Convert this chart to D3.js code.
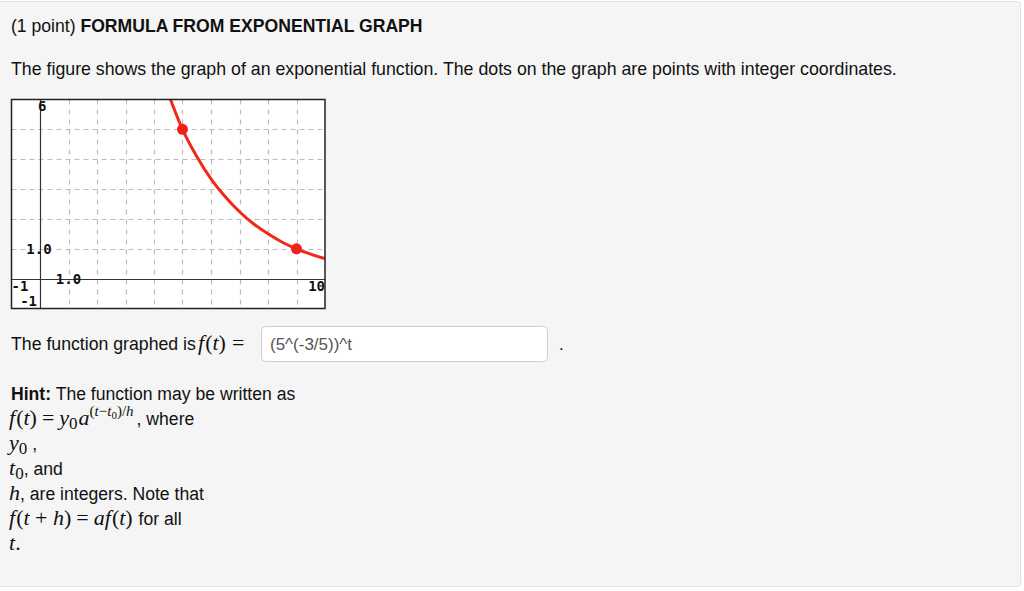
<!DOCTYPE html>
<html><head><meta charset="utf-8">
<script src="https://cdn.jsdelivr.net/npm/d3@7"></script>
<style>
html,body{margin:0;padding:0;background:#fff;}
svg{display:block;}
.sans{font-family:"Liberation Sans",Arial,Helvetica,sans-serif;}
.mono{font-family:"DejaVu Sans Mono","Liberation Mono",monospace;font-weight:bold;}
</style></head>
<body>
<script>
// ---- data ----
const xDomain = [-1, 10];
const yDomain = [-1, 6];
const xGrid = [0, 1, 2, 3, 4, 5, 6, 7, 8, 9];
const yGrid = [1, 2, 3, 4, 5];
const dotsT = [5, 9];
const dotsY = [5, 1];
const curveT = [4.5, 5, 5.5, 6, 6.5, 7, 7.5, 8, 8.5, 9, 9.5, 10];
const curveY = [6.2, 5, 4.09, 3.34, 2.74, 2.24, 1.83, 1.50, 1.22, 1.0, 0.82, 0.67];
const axisLabels = [
  {text: "6", t: 0, v: 6, anchor: "start", dx: -2, dy: 11},
  {text: "1.0", t: 0, v: 1, anchor: "middle", dx: -1, dy: 5},
  {text: "1.0", t: 1, v: 0, anchor: "middle", dx: 0, dy: 5},
  {text: "-1", t: -1, v: 0, anchor: "start", dx: 0, dy: 12},
  {text: "-1", t: 0, v: -1, anchor: "end", dx: -3, dy: -3},
  {text: "10", t: 10, v: 0, anchor: "end", dx: 0, dy: 12}
];

const W = 1024, H = 591;
const svg = d3.select("body").append("svg").attr("width", W).attr("height", H);

// page panel
svg.append("rect").attr("x", -5).attr("y", 1.5).attr("width", 1025.5).attr("height", 585)
  .attr("rx", 3).attr("fill", "#f5f5f5").attr("stroke", "#e3e3e3").attr("stroke-width", 1);

// header text
const t1 = svg.append("text").attr("class", "sans").attr("x", 11).attr("y", 32)
  .attr("font-size", 17.6).attr("fill", "#111");
t1.append("tspan").text("(1 point) ");
t1.append("tspan").attr("font-weight", "bold").text("FORMULA FROM EXPONENTIAL GRAPH");

svg.append("text").attr("class", "sans").attr("x", 11).attr("y", 75)
  .attr("font-size", 17.75).attr("fill", "#111")
  .text("The figure shows the graph of an exponential function. The dots on the graph are points with integer coordinates.");

// graph
const x = d3.scaleLinear().domain(xDomain).range([11.5, 325]);
const y = d3.scaleLinear().domain(yDomain).range([308.5, 99.5]);
const g = svg.append("g");
g.append("rect").attr("x", x(-1)).attr("y", y(6)).attr("width", x(10) - x(-1)).attr("height", y(-1) - y(6))
  .attr("fill", "#fff");
g.append("clipPath").attr("id", "clip").append("rect")
  .attr("x", x(-1)).attr("y", y(6)).attr("width", x(10) - x(-1)).attr("height", y(-1) - y(6));

g.selectAll(".vg").data(xGrid.filter(d => d !== 0)).join("line")
  .attr("x1", d => Math.round(x(d)) + 0.5).attr("x2", d => Math.round(x(d)) + 0.5)
  .attr("y1", y(6)).attr("y2", y(-1))
  .attr("stroke", "#bdbdbd").attr("stroke-width", 1.2).attr("stroke-dasharray", "5,5");
g.selectAll(".hg").data(yGrid).join("line")
  .attr("y1", d => Math.round(y(d)) + 0.5).attr("y2", d => Math.round(y(d)) + 0.5)
  .attr("x1", x(-1)).attr("x2", x(10))
  .attr("stroke", "#bdbdbd").attr("stroke-width", 1.2).attr("stroke-dasharray", "5,4");

// axes
g.append("line").attr("x1", x(-1)).attr("x2", x(10)).attr("y1", Math.round(y(0)) + 0.5).attr("y2", Math.round(y(0)) + 0.5)
  .attr("stroke", "#333").attr("stroke-width", 1.2);
g.append("line").attr("y1", y(-1)).attr("y2", y(6)).attr("x1", Math.round(x(0)) + 0.5).attr("x2", Math.round(x(0)) + 0.5)
  .attr("stroke", "#333").attr("stroke-width", 1.2);

// curve
const pts = curveT.map((t, i) => [t, curveY[i]]);
g.append("path").datum(pts).attr("clip-path", "url(#clip)")
  .attr("d", d3.line().x(d => x(d[0])).y(d => y(d[1])).curve(d3.curveMonotoneX))
  .attr("fill", "none").attr("stroke", "#f2281a").attr("stroke-width", 3);

g.selectAll(".dot").data(dotsT.map((t, i) => [t, dotsY[i]])).join("circle")
  .attr("cx", d => x(d[0])).attr("cy", d => y(d[1])).attr("r", 5.5).attr("fill", "#f2201a");

// labels
g.selectAll(".lab").data(axisLabels).join("text").attr("class", "mono")
  .attr("x", d => x(d.t) + d.dx).attr("y", d => y(d.v) + d.dy)
  .attr("text-anchor", d => d.anchor).attr("font-size", 14).attr("fill", "#111")
  .text(d => d.text);

// frame
g.append("rect").attr("x", x(-1)).attr("y", y(6)).attr("width", x(10) - x(-1)).attr("height", y(-1) - y(6))
  .attr("fill", "none").attr("stroke", "#222").attr("stroke-width", 1.5);

// answer line
svg.append("text").attr("class", "sans").attr("x", 11).attr("y", 350).attr("font-size", 17.7).attr("fill", "#111")
  .text("The function graphed is");
const fm = svg.append("text").attr("x", 198).attr("y", 350).attr("font-size", 22).attr("fill", "#111")
  .attr("font-family", "Liberation Serif, serif");
fm.append("tspan").attr("font-style", "italic").text("f");
fm.append("tspan").attr("dx", 1).text("(");
fm.append("tspan").attr("font-style", "italic").text("t");
fm.append("tspan").text(")");
fm.append("tspan").attr("dx", 6).text("=");

svg.append("rect").attr("x", 261.5).attr("y", 326.5).attr("width", 286).attr("height", 35).attr("rx", 4)
  .attr("fill", "#fff").attr("stroke", "#cfcfcf");
svg.append("text").attr("class", "sans").attr("x", 270).attr("y", 350).attr("font-size", 17).attr("fill", "#555")
  .text("(5^(-3/5))^t");
svg.append("text").attr("class", "sans").attr("x", 559).attr("y", 350).attr("font-size", 17).attr("fill", "#111").text(".");

// hint
const h1 = svg.append("text").attr("class", "sans").attr("x", 11).attr("y", 400).attr("font-size", 17.6).attr("fill", "#111");
h1.append("tspan").attr("font-weight", "bold").text("Hint:");
h1.append("tspan").text(" The function may be written as");

function serif(sel, parts) {
  parts.forEach(p => {
    const ts = sel.append("tspan").text(p.s);
    if (p.i) ts.attr("font-style", "italic");
    if (p.sans) ts.attr("font-family", "Liberation Sans, Arial, sans-serif").attr("font-size", 17.6);
    if (p.size) ts.attr("font-size", p.size);
    if (p.dy !== undefined) ts.attr("dy", p.dy);
    if (p.dx !== undefined) ts.attr("dx", p.dx);
  });
}
function mathLine(yy) {
  return svg.append("text").attr("x", 9).attr("y", yy).attr("font-size", 22).attr("fill", "#111")
    .attr("font-family", "Liberation Serif, serif");
}
serif(mathLine(425), [
  {s: "f", i: 1}, {s: "(", dx: 1}, {s: "t", i: 1}, {s: ")"}, {s: "=", dx: 5}, {s: "y", i: 1, dx: 5},
  {s: "0", size: 17, dy: 4}, {s: "a", i: 1, dy: -4, dx: 1},
  {s: "(", size: 15, dy: -9}, {s: "t", i: 1, size: 15}, {s: "−", size: 15}, {s: "t", i: 1, size: 15},
  {s: "0", size: 11, dy: 3}, {s: ")/", size: 15, dy: -3}, {s: "h", i: 1, size: 15},
  {s: ", where", sans: 1, dy: 9, dx: 3}
]);
serif(mathLine(450), [{s: "y", i: 1}, {s: "0", size: 17, dy: 4}, {s: " ,", sans: 1, dy: -4}]);
serif(mathLine(475), [{s: "t", i: 1}, {s: "0", size: 17, dy: 4}, {s: ", and", sans: 1, dy: -4}]);
serif(mathLine(500), [{s: "h", i: 1}, {s: ", are integers. Note that", sans: 1}]);
serif(mathLine(525), [{s: "f", i: 1}, {s: "(", dx: 1}, {s: "t", i: 1}, {s: " + "}, {s: "h", i: 1}, {s: ")"}, {s: "=", dx: 5},
  {s: "af", i: 1, dx: 5}, {s: "(", dx: 1}, {s: "t", i: 1}, {s: ")"}, {s: " for all", sans: 1, dx: 1}]);
serif(mathLine(550), [{s: "t", i: 1}, {s: "."}]);
</script>
</body></html>
